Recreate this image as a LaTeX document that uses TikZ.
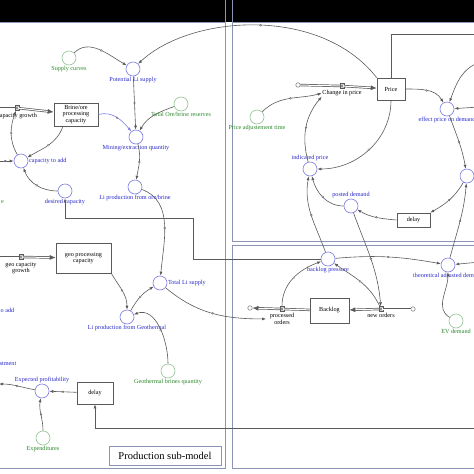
\documentclass[tikz,border=0pt]{standalone}
\usepackage{fontspec}
\setmainfont{Liberation Serif}
\usetikzlibrary{arrows.meta,decorations.markings,positioning}
\definecolor{vblue}{RGB}{40,40,200}
\definecolor{cblue}{RGB}{125,125,225}
\definecolor{vgreen}{RGB}{40,135,40}
\definecolor{cgreen}{RGB}{150,195,150}
\definecolor{lgray}{RGB}{90,90,90}
\definecolor{framec}{RGB}{140,148,182}
\tikzset{
  aux/.style={circle, draw=cblue, fill=white, minimum size=14pt, inner sep=0pt, line width=0.6pt, label distance=0.3pt},
  exo/.style={circle, draw=cgreen, fill=white, minimum size=14pt, inner sep=0pt, line width=0.6pt, label distance=0.3pt},
  bl/.style={text=vblue, font=\fontsize{6.2}{6.7}\selectfont, inner sep=0.5pt},
  gl/.style={text=vgreen, font=\fontsize{6.2}{6.7}\selectfont, inner sep=0.5pt},
  fl/.style={text=black, font=\fontsize{6.2}{6.7}\selectfont, inner sep=0.5pt, align=center},
  stock/.style={rectangle, draw=lgray, fill=white, line width=0.6pt, font=\fontsize{6.2}{6.7}\selectfont, align=center, inner sep=1pt},
  valve/.style={rectangle, draw=lgray, fill=white, inner sep=0pt, minimum width=3.5pt, minimum height=5pt,
    path picture={\draw[lgray] (path picture bounding box.north west) -- (path picture bounding box.south east)
      (path picture bounding box.north east) -- (path picture bounding box.south west);}},
  cloud/.style={circle, draw=lgray, fill=white, minimum size=4.5pt, inner sep=0pt},
  plain/.style={draw=lgray, line width=0.6pt},
  link/.style={plain, -{Latex[length=4pt,width=3pt]},
    postaction={decorate, decoration={markings, mark=at position 0.5 with {\draw[lgray, fill=white, line width=0.4pt] (0,0) circle (0.9pt);}}}},
  pipeseg/.style={draw=lgray, line width=0.7pt, double=white, double distance=1pt},
  pipe/.style={pipeseg, -{Latex[length=6pt,width=5pt]}},
  framel/.style={draw=framec, line width=0.9pt}
}
\begin{document}
\begin{tikzpicture}[x=1pt,y=1pt]
\useasboundingbox (0,-474) rectangle (474,0);
\clip (0,-474) rectangle (474,0);
\fill[black] (0,0) rectangle (474,-22);
\draw[framel] (-2,-22) rectangle (225,-468);
\draw[framel] (232,-22) rectangle (480,-241);
\draw[framel] (232,-245) rectangle (480,-468);
\draw[framel] (225,0) -- (225,-22) (232,0) -- (232,-22);
\node[draw=framec, line width=0.9pt, font=\fontsize{10.5}{12}\selectfont, minimum width=112pt, minimum height=19pt, inner sep=0pt] (PSM) at (165,-455.5) {Production sub-model};

\node[exo, label={[gl]below:Supply curves}] (SC) at (69,-58) {};
\node[aux, label={[bl]below:Potential Li supply}] (PLS) at (133,-69) {};
\node[stock, minimum width=44pt, minimum height=23pt] (BOC) at (76,-114.5) {Brine/ore\\processing\\capacity};
\node[valve] (CG) at (17,-108) {};
\node[fl, below=1.5pt of CG] (CGl) {capacity growth};
\coordinate (CG0) at (-5,-108);
\node[exo, label={[gl]below:Total Ore/brine reserves}] (TOR) at (181,-104) {};
\node[aux, label={[bl]below:Mining/extraction quantity}] (MEQ) at (136,-137) {};
\node[aux, label={[bl]right:capacity to add}] (CTA) at (21,-161) {};
\coordinate (L1) at (-3,-161);
\node[aux, label={[bl]below:desired capacity}] (DC) at (65,-191) {};
\node[aux, label={[bl]below:Li production from ore/brine}] (LPO) at (135,-187) {};
\node[gl, anchor=east] (Le) at (4.5,-202) {e};
\node[stock, minimum width=55pt, minimum height=30pt] (GPC) at (83.5,-258) {geo processing\\capacity};
\node[valve] (GCG) at (21,-257) {};
\node[fl, below=1.5pt of GCG] (GCGl) {geo capacity\\growth};
\coordinate (GCG0) at (-5,-257);
\node[aux, label={[bl]right:Total Li supply}] (TLS) at (160,-283) {};
\node[aux, label={[bl]below:Li production from Geothermal}] (LPG) at (127,-317) {};
\node[bl, anchor=east] (Lo) at (15,-310) {o add};
\node[exo, label={[gl]below:Geothermal brines quantity}] (GBQ) at (168,-371) {};
\node[bl, anchor=east] (Ls) at (17,-364) {stment};
\node[aux, label={[bl]above:Expected profitability}] (EP) at (42,-391) {};
\coordinate (L2) at (-1,-384);
\node[stock, minimum width=36pt, minimum height=22pt] (DL1) at (95,-393) {delay};
\node[exo, label={[gl]below:Expenditures}] (EX) at (43,-438) {};
\coordinate (R5) at (480,-428);

\node[stock, minimum width=28pt, minimum height=22pt] (PR) at (391,-89) {Price};
\node[cloud] (C1) at (298,-85) {};
\node[valve] (CP) at (342,-86) {};
\node[fl, below=1pt of CP] (CPl) {Change in price};
\node[exo, label={[gl]below:Price adjustement time}] (PAT) at (257,-117) {};
\node[aux, label={[bl]above:indicated price}] (IP) at (310,-169) {};
\node[aux, label={[bl]below:effect price on demand}] (EPD) at (447,-109) {};
\node[aux] (RC) at (467,-176) {};
\node[stock, minimum width=33pt, minimum height=14pt] (DL2) at (413.5,-220) {delay};
\node[aux, label={[bl]above:posted demand}] (PD) at (351,-206) {};
\coordinate (R1) at (480,-34);
\coordinate (R2) at (480,-62);
\coordinate (R3) at (480,-107);

\node[aux, label={[bl]below:backlog pressure}] (BP) at (328,-259) {};
\node[aux, label={[bl]below:theoretical adjusted demand}] (TAD) at (448,-265) {};
\node[exo, label={[gl]below:EV demand}] (EVD) at (456,-321) {};
\node[stock, minimum width=39pt, minimum height=25pt] (BL) at (329.5,-310.5) {Backlog};
\node[valve] (NO) at (381,-309) {};
\node[fl, below=1pt of NO] (NOl) {new orders};
\node[cloud] (C2) at (413,-309) {};
\node[valve] (PO) at (282,-309) {};
\node[fl, below=1pt of PO] (POl) {processed\\orders};
\node[cloud] (C3) at (250,-308) {};
\coordinate (R4) at (480,-262);

\draw[pipeseg] (CG0) -- (CG);
\draw[pipe] (CG) -- (BOC);
\draw[pipeseg] (GCG0) -- (GCG);
\draw[pipe] (GCG) -- (GPC);
\draw[pipeseg] (C1) -- (CP);
\draw[pipe] (CP) -- (PR);
\draw[pipeseg] (C2) -- (NO);
\draw[pipe] (NO) -- (BL);
\draw[pipeseg] (BL) -- (PO);
\draw[pipe] (PO) -- (C3);

\draw[link] (SC) to[out=45,in=150] (PLS);
\draw[link] (PR.north west) .. controls (320,-5) and (190,-15) .. (PLS.north east);
\draw[link] (PLS) -- (MEQ);
\draw[link] (TOR) to[out=200,in=60] (MEQ);
\draw[link, draw=cblue] (BOC.east) to[out=15,in=130] (MEQ);
\draw[link] ([xshift=-13pt]BOC.south) to[out=-110,in=30] (CTA);
\draw[link] (CTA) to[out=120,in=-110] (CG);
\draw[link] (L1) -- (CTA);
\draw[link] (DC) to[out=180,in=-70] (CTA);
\draw[plain, -{Latex[length=4pt,width=3pt]}] (BP.west) -| (193,-218) -| (DC.south);
\draw[link] (MEQ) to[out=-75,in=80] (LPO);
\draw[link] (LPO) to[out=-20,in=85] (TLS);
\draw[link] (GPC.south east) to[out=-60,in=90] (LPG);
\draw[link] (LPG) to[out=60,in=210] (TLS);
\draw[link] (GBQ) to[out=90,in=20] (LPG);
\draw[link] (TLS) to[out=-40,in=180] ([xshift=-3pt]POl.west);
\draw[link] (DL1) -- (EP);
\draw[link] (EX) to[out=90,in=-100] (EP);
\draw[link] (EP) to[out=170,in=0] (L2);
\draw[plain, -{Latex[length=4pt,width=3pt]}] (R5) -| (DL1.south);

\draw[link] (PAT) to[out=45,in=195] (CPl.west);
\draw[link] (IP) to[out=105,in=-130] (CPl.south west);
\draw[link] (PR.south) to[out=-90,in=0] (IP);
\draw[plain] (PR.north) |- (R1);
\draw[plain, -{Latex[length=4pt,width=3pt]}] (R2) to[out=200,in=70] (EPD);
\draw[plain, -{Latex[length=4pt,width=3pt]}] (R3) -- (EPD);
\draw[link] (PR.east) to[out=0,in=120] (EPD);
\draw[link] (EPD) to[out=-70,in=100] (RC);
\draw[link] (RC) to[out=-120,in=30] (DL2.north east);
\draw[link] (DL2.west) to[out=175,in=-30] (PD);
\draw[link] (PD) to[out=180,in=-75] (IP);
\draw[link] (BP) to[out=110,in=-100] (IP);
\draw[link] (PD) to[out=-70,in=95] (NO);
\draw[link] (NO) to[out=115,in=-35] (BP);
\draw[link] (PO) to[out=90,in=200] (BP);
\draw[link] (BP) to[out=5,in=170] (TAD);
\draw[plain, -{Latex[length=4pt,width=3pt]}] (R4) -- (TAD);
\draw[link] (TAD) to[out=75,in=-95] (RC);
\draw[plain, -{Latex[length=4pt,width=3pt]}] (EVD) to[out=150,in=-90] (TAD);
\end{tikzpicture}
\end{document}
